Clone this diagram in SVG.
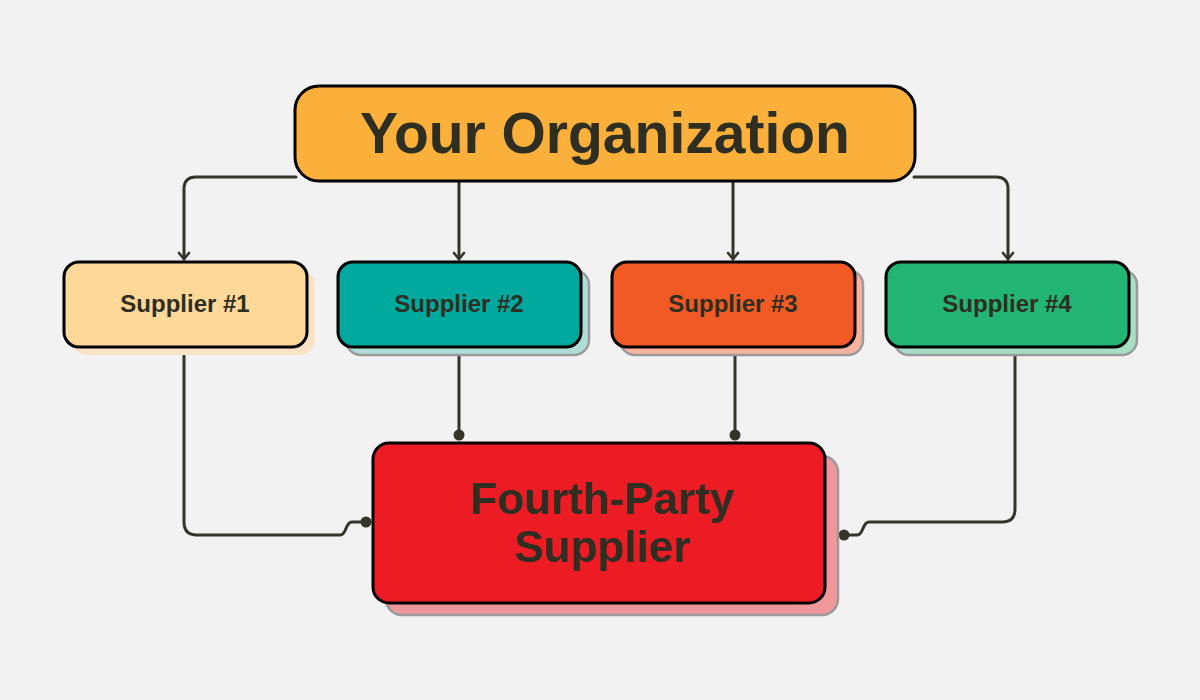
<svg xmlns="http://www.w3.org/2000/svg" width="1200" height="700" viewBox="0 0 1200 700">
<defs>
<style>
.box{stroke:#000;stroke-width:3}
.sh{stroke:#9a9a9a;stroke-width:2.5}
.lbl{font-family:"Liberation Sans",Arial,sans-serif;font-weight:bold;fill:#2f2e22;text-anchor:middle}
.conn{fill:none;stroke:#35342a;stroke-width:3;stroke-linecap:round;stroke-linejoin:round}
.dot{fill:#35342a}
</style>
<marker id="arr" markerWidth="14" markerHeight="14" refX="10" refY="7" orient="auto" markerUnits="userSpaceOnUse" viewBox="0 0 14 14">
<polyline points="4,2 10,7 4,12" fill="none" stroke="#35342a" stroke-width="2.6" stroke-linecap="round" stroke-linejoin="round"/>
</marker>
</defs>
<rect width="1200" height="700" fill="#f2f2f2"/>
<g id="connectors">
<path class="conn" d="M296,177 H196 Q184,177 184,189 V259" marker-end="url(#arr)"/>
<path class="conn" d="M459,182 V259" marker-end="url(#arr)"/>
<path class="conn" d="M733,182 V259" marker-end="url(#arr)"/>
<path class="conn" d="M914,177 H996 Q1008,177 1008,189 V259" marker-end="url(#arr)"/>
<path class="conn" d="M184,356 V522 Q184,535 197,535 H340 C347,535 345,522 352,522 H366"/>
<circle class="dot" cx="366" cy="522" r="5.5"/>
<path class="conn" d="M459,356 V435"/>
<circle class="dot" cx="459" cy="435" r="5.5"/>
<path class="conn" d="M735,356 V435"/>
<circle class="dot" cx="735" cy="435" r="5.5"/>
<path class="conn" d="M1015,356 V509 Q1015,522 1002,522 H869 C862,522 864,535 857,535 H844"/>
<circle class="dot" cx="844" cy="535" r="5.5"/>
</g>
<g id="your-organization">
<rect class="box" x="295" y="86" width="620" height="95" rx="24" fill="#fbb03b"/>
<text class="lbl" x="605" y="153" font-size="57">Your Organization</text>
</g>
<g id="supplier-1">
<rect x="72" y="270" width="243" height="85" rx="15" fill="#f8e3c6"/>
<rect class="box" x="64" y="262" width="243" height="85" rx="15" fill="#fed899"/>
<text class="lbl" x="185" y="312" font-size="24">Supplier #1</text>
</g>
<g id="supplier-2">
<rect class="sh" x="346" y="270" width="243" height="85" rx="15" fill="#b1ddd9"/>
<rect class="box" x="338" y="262" width="243" height="85" rx="15" fill="#00a99d"/>
<text class="lbl" x="459" y="312" font-size="24">Supplier #2</text>
</g>
<g id="supplier-3">
<rect class="sh" x="620" y="270" width="243" height="85" rx="15" fill="#f6b29e"/>
<rect class="box" x="612" y="262" width="243" height="85" rx="15" fill="#f15a24"/>
<text class="lbl" x="733" y="312" font-size="24">Supplier #3</text>
</g>
<g id="supplier-4">
<rect class="sh" x="894" y="270" width="243" height="85" rx="15" fill="#a6dfc3"/>
<rect class="box" x="886" y="262" width="243" height="85" rx="15" fill="#22b573"/>
<text class="lbl" x="1007" y="312" font-size="24">Supplier #4</text>
</g>
<g id="fourth-party-supplier">
<rect class="sh" x="386" y="456" width="452" height="159" rx="16" fill="#f0979b"/>
<rect class="box" x="373" y="443" width="452" height="160" rx="16" fill="#ed1c24"/>
<text class="lbl" x="602" y="514" font-size="44">Fourth-Party</text>
<text class="lbl" x="602" y="562" font-size="44">Supplier</text>
</g>
</svg>
